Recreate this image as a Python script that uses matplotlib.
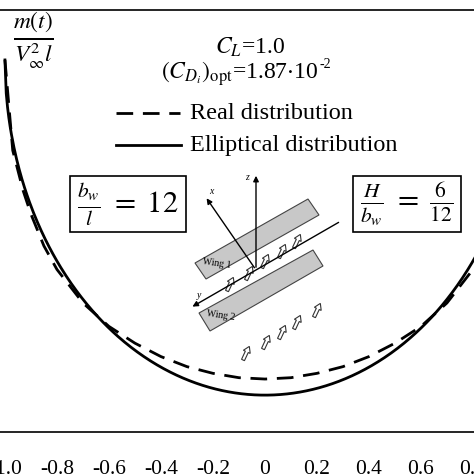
import numpy as np
import matplotlib
matplotlib.use("Agg")
import matplotlib.pyplot as plt
from matplotlib.patches import Polygon, FancyArrow

plt.rcParams['font.family'] = ['Liberation Serif', 'DejaVu Serif']
plt.rcParams['mathtext.fontset'] = 'stix'

# data
t_ell = np.linspace(-1, 1, 401)
m_ell = np.sqrt(1 - t_ell**2)
t_real = [-1.0, -0.97, -0.93, -0.9, -0.85, -0.8, -0.7, -0.6, -0.5, -0.4, -0.3, -0.2, -0.1, 0.0,
          0.1, 0.2, 0.3, 0.4, 0.5, 0.6, 0.7, 0.8, 0.85, 0.9, 0.93, 0.97, 1.0]
m_real = [0.0, 0.27, 0.39, 0.46, 0.555, 0.625, 0.725, 0.795, 0.845, 0.885, 0.915, 0.935, 0.948, 0.952,
          0.948, 0.935, 0.915, 0.885, 0.845, 0.795, 0.725, 0.625, 0.555, 0.46, 0.39, 0.27, 0.0]
xticks = [-1.0, -0.8, -0.6, -0.4, -0.2, 0.0, 0.2, 0.4, 0.6, 0.8]
xticklabels = ['-1.0', '-0.8', '-0.6', '-0.4', '-0.2', '0', '0.2', '0.4', '0.6', '0.8']

W = 474
fig = plt.figure(figsize=(4.74, 4.74), dpi=100)
ax = fig.add_axes([0, 1 - 432 / W, 1, (432 - 10) / W])
ax.plot(t_real, m_real, color='black', lw=2.0, ls=(0, (6, 3.5)))
ax.plot(t_ell, m_ell, color='black', lw=2.0)
ax.set_xlim(-1.019, 0.804)
ax.set_ylim(1.110, -0.149)
ax.set_xticks(xticks)
ax.set_xticklabels(xticklabels, fontsize=15.5)
ax.tick_params(axis='x', length=0, pad=20)
ax.set_yticks([])
for s in ['left', 'right']:
    ax.spines[s].set_visible(False)
for s in ['top', 'bottom']:
    ax.spines[s].set_linewidth(1.2)

# overlay in pixel coords
ov = fig.add_axes([0, 0, 1, 1], facecolor='none')
ov.set_xlim(0, W)
ov.set_ylim(W, 0)
ov.axis('off')

ov.text(33, 41, r'$\frac{m(t)}{V_\infty^2 l}$', fontsize=24, ha='center', va='center')
ov.text(250, 47, r'$C_L$=1.0', fontsize=17, ha='center', va='center')
ov.text(240, 74, r'$(C_{D_i})_{\rm opt}$=1.87$\cdot$10', fontsize=17, ha='center', va='center')
ov.text(320, 64, '-2', fontsize=10, ha='left', va='center')
ov.plot([116, 180], [113, 113], color='black', lw=2.0, ls=(0, (6, 3.5)))
ov.text(190, 113, 'Real distribution', fontsize=17.5, ha='left', va='center')
ov.plot([116, 181], [145, 145], color='black', lw=2.0)
ov.text(190, 145, 'Elliptical distribution', fontsize=17.5, ha='left', va='center')

ov.add_patch(plt.Rectangle((70, 176), 116, 56, fill=False, lw=1.2, ec='black'))
ov.text(128, 204, r'$\frac{b_w}{l}\ =\ 12$', fontsize=22, ha='center', va='center')
ov.add_patch(plt.Rectangle((353, 176), 108, 56, fill=False, lw=1.2, ec='black'))
ov.text(407, 204, r'$\frac{H}{b_w}\ =\ \frac{6}{12}$', fontsize=22, ha='center', va='center')

# wing diagram
ov.add_patch(Polygon([(195, 263), (308, 199), (319, 215), (206, 279)], closed=True, fc='#c8c8c8', ec='#444444', lw=0.8))
ov.add_patch(Polygon([(199, 313), (313, 250), (323, 266), (210, 331)], closed=True, fc='#c8c8c8', ec='#444444', lw=0.8))
ov.text(202, 264, 'Wing 1', fontsize=7, rotation=-8, va='center')
ov.text(206, 316, 'Wing 2', fontsize=7, rotation=-8, va='center')
ov.annotate('', xy=(190, 308), xytext=(341, 221), arrowprops=dict(arrowstyle='-|>', lw=1.0, color='black', mutation_scale=8))
ov.annotate('', xy=(256, 173), xytext=(256, 270), arrowprops=dict(arrowstyle='-|>', lw=1.0, color='black', mutation_scale=8))
ov.annotate('', xy=(205, 196), xytext=(256, 270), arrowprops=dict(arrowstyle='-|>', lw=1.0, color='black', mutation_scale=8))
ov.text(247, 178, 'z', fontsize=7, style='italic', ha='center', va='center')
ov.text(211, 192, 'x', fontsize=7, style='italic', ha='center', va='center')
ov.text(199, 296, 'y', fontsize=7, style='italic', ha='center', va='center')
ang = np.deg2rad(25)
L = 15
dx, dy = L * np.sin(ang), -L * np.cos(ang)
for (px, py) in [(227, 291), (246, 280), (262, 268), (279, 258), (294, 248),
                 (243, 360), (263, 349), (279, 339), (294, 329), (314, 317)]:
    ov.add_patch(FancyArrow(px, py, dx, dy, width=3.2, head_width=7.5, head_length=6,
                            length_includes_head=True, fc='white', ec='#333333', lw=0.8))

fig.savefig('out.png', dpi=100)
